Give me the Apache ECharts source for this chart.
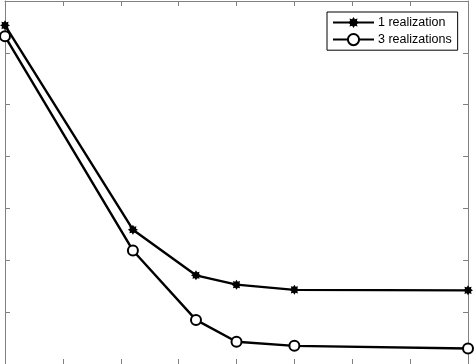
<!DOCTYPE html>
<html>
<head>
<meta charset="utf-8">
<script src="https://cdn.jsdelivr.net/npm/echarts@6/dist/echarts.min.js"></script>
<style>html,body{margin:0;padding:0;background:#fff}#c{width:474px;height:364px}</style>
</head>
<body>
<div id="c"></div>
<script>
// Data
var xValues = [0, 2.21, 3.3, 4.0, 5.0, 8.0];
var oneRealization = [6.53, 2.59, 1.71, 1.53, 1.43, 1.42];
var threeRealizations = [6.32, 2.19, 0.85, 0.43, 0.35, 0.30];
var seriesNames = ['1 realization', '3 realizations'];

function pairs(xs, ys) { return xs.map(function (x, i) { return [x, ys[i]]; }); }

// asterisk-like marker shape
function starPath() {
  var pts = [], n = 8;
  for (var k = 0; k < 2 * n; k++) {
    var a = Math.PI * k / n - Math.PI / 2;
    var r = (k % 2 === 0) ? 10 : 6.5;
    pts.push((10 + r * Math.cos(a)).toFixed(2) + ' ' + (10 + r * Math.sin(a)).toFixed(2));
  }
  return 'path://M' + pts.join(' L') + ' Z';
}

var axisColor = '#808080';
var chart = echarts.init(document.getElementById('c'), null, {renderer: 'canvas'});
var common = {
  axisLine: {show: true, onZero: false, lineStyle: {color: axisColor, width: 1}},
  axisTick: {show: true, inside: true, length: 5, lineStyle: {color: axisColor}},
  axisLabel: {show: false},
  splitLine: {show: false}
};
chart.setOption({
  animation: false,
  grid: {left: 5, top: 1, width: 463, height: 364, containLabel: false},
  xAxis: [
    Object.assign({type: 'value', min: 0, max: 8, interval: 1, position: 'bottom'}, common),
    Object.assign({type: 'value', min: 0, max: 8, interval: 1, position: 'top'}, common)
  ],
  yAxis: [
    Object.assign({type: 'value', min: 0, max: 7, interval: 1, position: 'left'}, common),
    Object.assign({type: 'value', min: 0, max: 7, interval: 1, position: 'right'}, common)
  ],
  legend: {
    orient: 'vertical',
    left: 327, top: 12,
    width: 131,
    padding: [4, 6, 4, 5],
    itemGap: 4,
    itemWidth: 41,
    itemHeight: 14,
    borderColor: '#000', borderWidth: 1,
    backgroundColor: '#fff',
    textStyle: {fontFamily: 'Liberation Sans, Arial, sans-serif', fontSize: 12.5, color: '#000', padding: [0, 0, 0, -1]},
    data: seriesNames
  },
  series: [
    {
      name: seriesNames[0], type: 'line', data: pairs(xValues, oneRealization),
      symbol: starPath(), symbolSize: 10, showAllSymbol: true, clip: false,
      lineStyle: {color: '#000', width: 2.4},
      itemStyle: {color: '#000'}
    },
    {
      name: seriesNames[1], type: 'line', data: pairs(xValues, threeRealizations),
      symbol: 'circle', symbolSize: 10, showAllSymbol: true, clip: false,
      lineStyle: {color: '#000', width: 2.4},
      itemStyle: {color: '#fff', borderColor: '#000', borderWidth: 2}
    }
  ]
});
</script>
</body>
</html>
